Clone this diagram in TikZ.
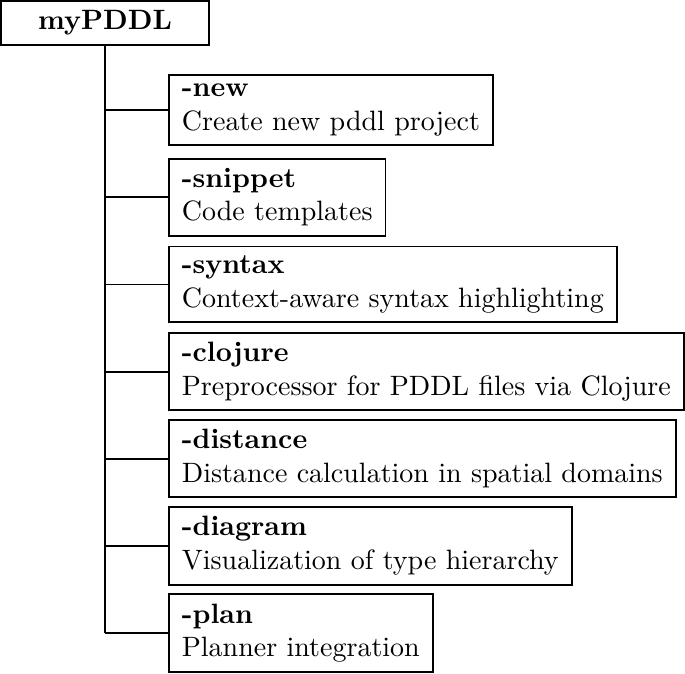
\documentclass[tikz,border=0pt]{standalone}
\begin{document}
\begin{tikzpicture}[
  box/.style={draw, line width=0.7pt, align=left, inner xsep=4.6pt, inner ysep=3.33pt},
  rootbox/.style={draw, line width=0.7pt, font=\bfseries, minimum width=74pt, minimum height=15pt},
  item/.style={box, anchor=west},
  conn/.style={line width=0.65pt}
]
\useasboundingbox (0,0) rectangle (244.6pt,-240.4pt);
\node[rootbox] (root) at (37.5pt,-8.2pt) {myPDDL};
\def\sx{60.0pt}
\node[item] (c1) at (\sx,-39.3pt) {\textbf{-new}\\Create new pddl project};
\node[item] (c2) at (\sx,-70.43pt) {\textbf{-snippet}\\Code templates};
\node[item] (c3) at (\sx,-101.56pt) {\textbf{-syntax}\\Context-aware syntax highlighting};
\node[item] (c4) at (\sx,-132.69pt) {\textbf{-clojure}\\Preprocessor for PDDL files via Clojure};
\node[item] (c5) at (\sx,-163.82pt) {\textbf{-distance}\\Distance calculation in spatial domains};
\node[item] (c6) at (\sx,-194.95pt) {\textbf{-diagram}\\Visualization of type hierarchy};
\node[item] (c7) at (\sx,-226.08pt) {\textbf{-plan}\\Planner integration};
\draw[conn] (root.south) -- (root.south |- c7.west);
\foreach \i in {1,...,7} {
  \draw[conn] (root.south |- c\i.west) -- (c\i.west);
}
\end{tikzpicture}
\end{document}
